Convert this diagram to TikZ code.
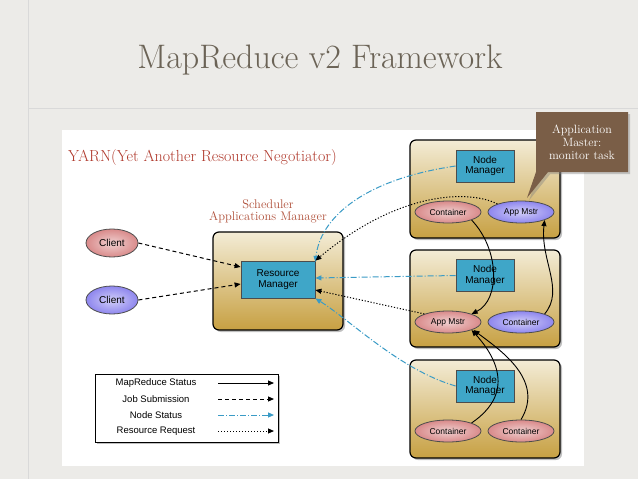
\documentclass[tikz,border=0pt]{standalone}
\usepackage{fontspec}
\usetikzlibrary{arrows.meta,shadows,shapes.geometric}
\newfontfamily\sansf{Liberation Sans}
\definecolor{slide}{HTML}{ECEBE8}
\definecolor{titlec}{HTML}{6B6356}
\definecolor{redt}{HTML}{B0392C}
\definecolor{schedc}{HTML}{B0503A}
\definecolor{boxtop}{HTML}{F3ECD6}
\definecolor{boxbot}{HTML}{C7A042}
\definecolor{nmblue}{HTML}{3FA6C8}
\definecolor{nsblue}{HTML}{3A9BC6}
\definecolor{pinkc}{HTML}{D98A8A}
\definecolor{purpc}{HTML}{8E86EE}
\definecolor{calloutc}{HTML}{7A5E47}
\tikzset{
 x=1pt,y=-1pt,
 gbox/.style={draw=black,line width=1.2pt,rounded corners=6pt,top color=boxtop,bottom color=boxbot,drop shadow={shadow xshift=2pt,shadow yshift=-2pt,opacity=.5}},
 bluebox/.style={draw=black!70,line width=.8pt,fill=nmblue,font=\sansf\fontsize{10}{10.5}\selectfont,align=center,inner sep=0pt},
 ell/.style={ellipse,draw=black!70,line width=.8pt,minimum width=66pt,minimum height=22pt,inner sep=0pt,font=\sansf\fontsize{8.5}{9}\selectfont},
 pk/.style={ell,inner color=pinkc!40,outer color=pinkc},
 pu/.style={ell,inner color=purpc!40,outer color=purpc},
 tip/.style={-{Triangle[length=6pt,width=5pt]}},
 job/.style={tip,dashed,line width=1pt,dash pattern=on 4pt off 3pt},
 ns/.style={tip,draw=nsblue,line width=1pt,dash pattern=on 6pt off 2pt on 1pt off 2pt,-{Triangle[length=6pt,width=5pt,fill=nsblue]}},
 rr/.style={tip,line width=1pt,dash pattern=on 1.2pt off 1.8pt},
 ms/.style={tip,line width=.9pt},
 lg/.style={font=\sansf\fontsize{9.5}{10}\selectfont}
}
\begin{document}
\begin{tikzpicture}
\useasboundingbox (0,0) rectangle (638,479);
\fill[slide] (0,0) rectangle (638,479);
\draw[black!15] (28,0) -- (28,479);
\draw[black!15] (28,108) -- (638,108);
\node[text=titlec,font=\fontsize{34}{38}\selectfont] (title) at (320,60) {MapReduce v2 Framework};
\fill[white] (62,130) rectangle (584,466);
\node[anchor=west,text=redt,font=\fontsize{16}{18}\selectfont,inner sep=0pt] (yarn) at (68,158) {YARN(Yet Another Resource Negotiator)};
\node[text=schedc,align=center,font=\fontsize{12.5}{12}\selectfont,inner sep=0pt] (sched) at (268,211) {Scheduler\\Applications Manager};
% boxes
\draw[gbox] (213,232) rectangle (343,330);
\draw[gbox] (410,140) rectangle (560,238);
\draw[gbox] (410,250) rectangle (560,347);
\draw[gbox] (410,360) rectangle (560,458);
\node[bluebox,minimum width=74pt,minimum height=37pt] (rm) at (278,279.5) {Resource\\Manager};
\node[bluebox,minimum width=58pt,minimum height=32pt] (nm1) at (485,166) {Node\\Manager};
\node[bluebox,minimum width=58pt,minimum height=32pt] (nm2) at (485,275.5) {Node\\Manager};
\node[bluebox,minimum width=58pt,minimum height=32pt] (nm3) at (485,386) {Node\\Manager};
\node[pk] (c1) at (448,212) {Container};
\node[pu] (a1) at (521,212) {App Mstr};
\node[pk] (a2) at (448,322) {App Mstr};
\node[pu] (c2) at (521,322) {Container};
\node[pk] (c3) at (448,431) {Container};
\node[pk] (c4) at (521,431) {Container};
\node[pk,minimum width=52pt,minimum height=28pt,font=\sansf\fontsize{10}{10}\selectfont] (cl1) at (112,243) {Client};
\node[pu,minimum width=52pt,minimum height=28pt,font=\sansf\fontsize{10}{10}\selectfont] (cl2) at (112,300) {Client};
% job submission
\draw[job] (cl1.east) -- (rm.west |- 0,267);
\draw[job] (cl2.east) -- (rm.west |- 0,284);
% node status
\draw[ns] (nm1.west) .. controls (360,180) and (320,220) .. (rm.north east |- 0,262) ;
\draw[ns] (nm2.west) -- (rm.east |- 0,278);
\draw[ns] (nm3.west) .. controls (400,370) and (350,320) .. (rm.south east);
% resource request
\draw[rr] (a1.north west) .. controls (470,190) and (400,190) .. (rm.north east);
\draw[rr] (a2.north west) -- (rm.east |- 0,290);
% mapreduce status
\draw[ms] (c1.south east) .. controls (500,250) and (500,300) .. (a2.north east);
\draw[ms] (c2.north east) .. controls (565,290) and (540,260) .. (a1.south east);
\draw[ms] (c3.north east) .. controls (520,390) and (490,350) .. (a2.south east);
\draw[ms] (c4.north) .. controls (545,380) and (500,350) .. ([xshift=2pt]a2.south east);
% legend
\draw[line width=1pt,fill=white,drop shadow={shadow xshift=2pt,shadow yshift=-2pt,opacity=.5}] (95,374) rectangle (278,442);
\node[lg] (l1) at (156,383) {MapReduce Status};
\node[lg] (l2) at (156,399) {Job Submission};
\node[lg] (l3) at (156,415) {Node Status};
\node[lg] (l4) at (156,431) {Resource Request};
\coordinate (e1) at (274,383); \coordinate (e2) at (274,399);
\coordinate (e3) at (274,415); \coordinate (e4) at (274,431);
\draw[ms] (218,383) -- (e1);
\draw[job] (218,399) -- (e2);
\draw[ns] (218,415) -- (e3);
\draw[rr] (218,431) -- (e4);
% callout
\fill[calloutc,drop shadow={opacity=.4}] (536,112) -- (628,112) -- (628,172) -- (548,172) -- (527,198) -- (536,172) -- cycle;
\node[text=white,align=center,font=\fontsize{12}{13}\selectfont] (call) at (582,142) {Application\\Master:\\monitor task};
\end{tikzpicture}
\end{document}
